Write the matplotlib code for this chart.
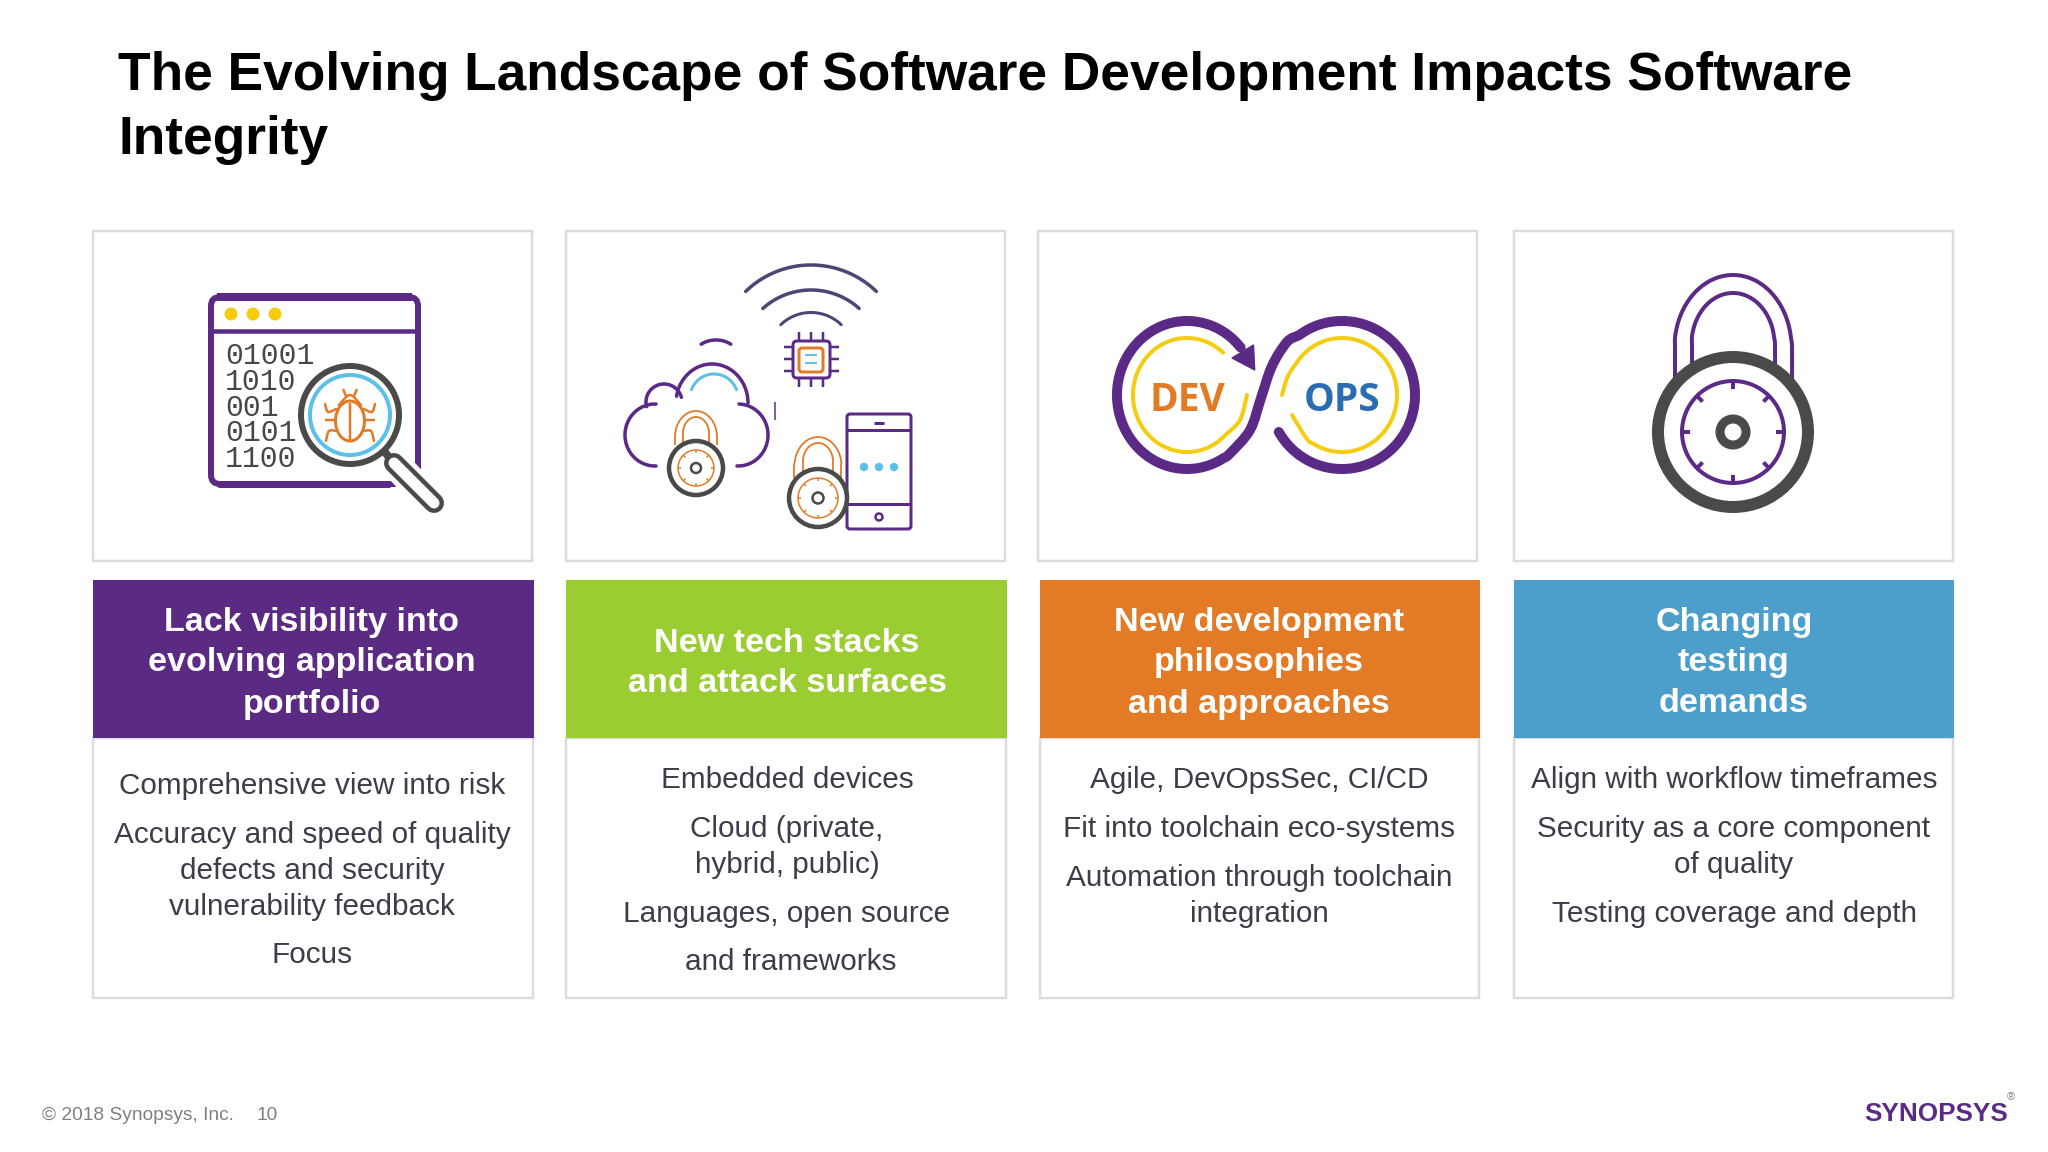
import numpy as np
import matplotlib
matplotlib.use("Agg")
import matplotlib.pyplot as plt
from matplotlib.path import Path
from matplotlib.patches import PathPatch, Rectangle, Circle, Ellipse, FancyBboxPatch, Polygon

PURPLE = "#5b2a86"
DARK = "#4a4a4a"
ORANGE = "#e27a26"
YELLOW = "#f6cc0f"
SKY = "#5cc0e8"
EDGE = "#dcdcdf"
BODY = "#3d3d4a"

title_lines = ["The Evolving Landscape of Software Development Impacts Software", "Integrity"]
title_y = [76, 140]

col_left = [93, 566, 1040, 1514]
col_right = [534, 1007, 1480, 1954]
img_left = [93, 566, 1038, 1514]
img_right = [532, 1005, 1477, 1953]
col_center = [312, 787, 1259, 1734]
header_colors = ["#5b2a82", "#9acd32", "#e37a26", "#4b9fca"]

headers = [
    ["Lack visibility into", "evolving application", "portfolio"],
    ["New tech stacks", "and attack surfaces"],
    ["New development", "philosophies", "and approaches"],
    ["Changing", "testing", "demands"],
]
header_y = [
    [622, 663, 704],
    [643, 684],
    [622, 663, 704],
    [622, 663, 704],
]
body = [
    ["Comprehensive view into risk", "Accuracy and speed of quality", "defects and security",
     "vulnerability feedback", "Focus"],
    ["Embedded devices", "Cloud (private,", "hybrid, public)", "Languages, open source", "and frameworks"],
    ["Agile, DevOpsSec, CI/CD", "Fit into toolchain eco-systems", "Automation through toolchain", "integration"],
    ["Align with workflow timeframes", "Security as a core component", "of quality", "Testing coverage and depth"],
]
body_y = [
    [786, 835, 871, 907, 955],
    [780, 829, 865, 914, 962],
    [780, 829, 878, 914],
    [780, 829, 865, 914],
]
binary_rows = ["01001", "1010", "001", "0101", "1100"]
binary_y = [356, 382, 408, 433, 459]

PX = 0.72  # pixels to points at dpi 100

plt.rcParams["font.family"] = ["Liberation Sans", "DejaVu Sans"]
fig = plt.figure(figsize=(20.48, 11.52), dpi=100)
ax = fig.add_axes([0, 0, 1, 1])
ax.set_xlim(0, 2048)
ax.set_ylim(1152, 0)
ax.axis("off")


def arc_pts(cx, cy, rx, ry, start, stop, n=24):
    # angles in degrees, y axis points down
    a = np.radians(np.linspace(start, stop, n))
    return list(zip(cx + rx * np.cos(a), cy + ry * np.sin(a)))


def smooth(points):
    # catmull-rom through the points, as a cubic bezier path
    pts = np.array(points, dtype=float)
    padded = np.vstack([pts[0], pts, pts[-1]])
    verts = [pts[0]]
    codes = [Path.MOVETO]
    for i in range(1, len(padded) - 2):
        p0, p1, p2, p3 = padded[i - 1], padded[i], padded[i + 1], padded[i + 2]
        verts += [p1 + (p2 - p0) / 6, p2 - (p3 - p1) / 6, p2]
        codes += [Path.CURVE4] * 3
    return Path(verts, codes)


def curve(points, color, width, z=3, cap="round"):
    ax.add_patch(PathPatch(smooth(points), fc="none", ec=color, lw=width * PX, capstyle=cap, zorder=z))


def line(x0, y0, x1, y1, color, width, z=3, cap="butt"):
    ax.plot([x0, x1], [y0, y1], color=color, lw=width * PX, solid_capstyle=cap, zorder=z)


def ring(x, y, r, color, width, z=3, fill="none"):
    ax.add_patch(Circle((x, y), r, fc=fill, ec=color, lw=width * PX, zorder=z))


def round_box(x0, y0, x1, y1, rad, color, width, z=3, fill="none"):
    ax.add_patch(FancyBboxPatch((x0 + rad, y0 + rad), x1 - x0 - 2 * rad, y1 - y0 - 2 * rad,
                                boxstyle="round,pad=%f,rounding_size=%f" % (rad, rad),
                                fc=fill, ec=color, lw=width * PX, zorder=z))


def dial(x, y, r_out, r_in, hub, out_w, in_w, hub_w, tick, in_color, z):
    ring(x, y, r_out, DARK, out_w, z, "white")
    ring(x, y, r_in, in_color, in_w, z + 0.1)
    ring(x, y, hub, DARK, hub_w, z + 0.1)
    for a in np.arange(8) * np.pi / 4:
        line(x + r_in * np.cos(a), y + r_in * np.sin(a),
             x + (r_in - tick) * np.cos(a), y + (r_in - tick) * np.sin(a), in_color, in_w, z + 0.1)


def shackle(x, left, right, top, bottom, color, width, z=2):
    mid = top + (right - left) * 0.62
    half = (right - left) / 2
    pts = [(left, bottom), (left, mid)] + arc_pts(x, mid, half, mid - top, 180, 360)[1:-1] + [(right, mid), (right, bottom)]
    curve(pts, color, width, z, "butt")


def draw_window_icon():
    round_box(211, 297, 418, 484, 9, PURPLE, 6)
    line(217, 297, 412, 297, PURPLE, 8)
    line(211, 331, 418, 331, PURPLE, 4.5)
    line(218, 484, 390, 484, PURPLE, 7)
    for x in [231, 253, 275]:
        ax.add_patch(Circle((x, 314), 6.5, fc=YELLOW, ec="none", zorder=4))
    for row, y in zip(binary_rows, binary_y):
        ax.text(225, y, row, family="Liberation Mono", fontsize=21.5, color="#474747", va="center", ha="left", zorder=4)
    # magnifier
    line(385, 452, 433, 505, "white", 30, 5, "round")
    line(384, 451, 392, 461, DARK, 8, 6)
    line(394, 463, 434, 503, DARK, 20, 6, "round")
    line(394, 463, 434, 503, "white", 11, 7, "round")
    ring(350, 415, 49, DARK, 6, 6, "white")
    ring(350, 415, 40, SKY, 4, 7)
    # bug
    ax.add_patch(Ellipse((350, 421), 29, 40, fc="none", ec=ORANGE, lw=3 * PX, zorder=8))
    line(350, 403, 350, 441, ORANGE, 2.5, 8)
    curve([(339, 405), (350, 395), (361, 405)], ORANGE, 2.5, 8)
    for side in [-1, 1]:
        line(350 + side * 4, 396, 350 + side * 7, 389, ORANGE, 2.5, 8)
        curve([(350 + side * 14, 409), (350 + side * 22, 412), (350 + side * 25, 404)], ORANGE, 2.5, 8)
        line(350 + side * 15, 420, 350 + side * 25, 420, ORANGE, 2.5, 8)
        curve([(350 + side * 13, 431), (350 + side * 21, 431), (350 + side * 24, 441)], ORANGE, 2.5, 8)


def draw_cloud_icon():
    wave = "#4c4672"
    curve(arc_pts(811, 359, 94, 94, -134, -46), wave, 3.5)
    curve(arc_pts(811, 362, 72, 72, -132, -48), wave, 3.5)
    curve(arc_pts(811, 356, 43.5, 43.5, -134, -46), wave, 3)
    # chip
    round_box(793, 341, 830, 378, 4, PURPLE, 3)
    round_box(799, 348, 823, 372, 3, ORANGE, 3)
    for d in [-12, 0, 12]:
        line(811 + d, 332, 811 + d, 341, PURPLE, 2.5)
        line(811 + d, 378, 811 + d, 387, PURPLE, 2.5)
        line(784, 359 + d, 793, 359 + d, PURPLE, 2.5)
        line(830, 359 + d, 839, 359 + d, PURPLE, 2.5)
    line(805, 355, 817, 355, SKY, 2)
    line(805, 363, 817, 363, SKY, 2)
    # cloud
    curve(arc_pts(655, 435, 30, 31, 88, 272), PURPLE, 3.5)
    curve(arc_pts(664, 402, 18, 18, 165, 345), PURPLE, 3.5)
    curve(arc_pts(712, 403, 36, 39, 190, 360), PURPLE, 3.5)
    curve(arc_pts(738, 435, 30, 31, -88, 92), PURPLE, 3.5)
    curve(arc_pts(716, 358, 23, 18, -130, -50), PURPLE, 3.5)
    curve(arc_pts(714, 398, 24, 24, -160, -20), SKY, 3)
    line(775, 402, 775, 420, PURPLE, 1.5)
    # locks
    shackle(696, 675, 717, 411, 445, ORANGE, 1.8)
    shackle(696, 683, 709, 417, 445, ORANGE, 1.8)
    dial(696, 468, 27, 18, 5, 4.5, 1.5, 2.5, 3, ORANGE, 4)
    # phone
    round_box(847, 414, 911, 529, 3, PURPLE, 3)
    line(847, 430, 911, 430, PURPLE, 3)
    line(847, 504, 911, 504, PURPLE, 3)
    line(874, 423, 884, 423, PURPLE, 3)
    ring(879, 517, 3.5, PURPLE, 2.5)
    for x in [864, 879, 894]:
        ax.add_patch(Circle((x, 467), 4.2, fc=SKY, ec="none", zorder=4))
    shackle(818, 794, 841, 437, 478, ORANGE, 1.8, 5)
    shackle(818, 803, 833, 443, 478, ORANGE, 1.8, 5)
    dial(818, 498, 29, 20, 5.5, 4.5, 1.5, 2.5, 3, ORANGE, 6)


def draw_devops_icon():
    cross = [(1250, 430), (1261, 398), (1272, 366), (1287, 342)]
    loop = arc_pts(1187, 395, 70, 74, -40, -308, 40) + cross + arc_pts(1342, 395, 73, 74, 234, 510, 40)
    curve(loop, PURPLE, 10)
    ax.add_patch(Polygon([(1253.5, 345), (1254.7, 370), (1232, 358)], fc=PURPLE, ec=PURPLE, lw=1, zorder=3))
    curve(arc_pts(1187, 395, 54, 57, -48, -315, 30) + [(1240, 420), (1247, 395)], YELLOW, 4)
    curve([(1282, 395), (1288, 376)] + arc_pts(1342, 395, 55, 57, 220, 490, 30) + [(1292, 415)], YELLOW, 4)
    ax.text(1187, 396, "DEV", family="Open Sans", weight="bold", fontsize=28, color=ORANGE,
            ha="center", va="center_baseline", zorder=4)
    ax.text(1342, 396, "OPS", family="Open Sans", weight="bold", fontsize=28, color="#2b6db2",
            ha="center", va="center_baseline", zorder=4)


def draw_lock_icon():
    shackle(1733, 1675, 1792, 275, 385, PURPLE, 4)
    shackle(1733, 1692, 1775, 293, 370, PURPLE, 4)
    dial(1733, 432, 75, 51, 13, 12, 4, 9, 8, PURPLE, 3)


# title
for text, y in zip(title_lines, title_y):
    ax.text(118, y, text, fontsize=38.3, weight="bold", color="black", va="center", ha="left")

# boxes, banners and their text
for i in range(4):
    ax.add_patch(Rectangle((img_left[i], 231), img_right[i] - img_left[i], 330, fc="white", ec=EDGE, lw=2.5 * PX, zorder=1))
    ax.add_patch(Rectangle((col_left[i], 738), col_right[i] - col_left[i] - 1, 260, fc="white", ec=EDGE, lw=2.5 * PX, zorder=1))
    ax.add_patch(Rectangle((col_left[i], 580), col_right[i] - col_left[i], 158, fc=header_colors[i], ec="none", zorder=2))
    for text, y in zip(headers[i], header_y[i]):
        ax.text(col_center[i], y, text, fontsize=24.6, weight="bold", color="white", ha="center", va="center", zorder=3)
    for text, y in zip(body[i], body_y[i]):
        x = col_center[i]
        if text == "and frameworks":
            x += 4
        ax.text(x, y, text, fontsize=21.4, color=BODY, ha="center", va="center", zorder=3)

draw_window_icon()
draw_cloud_icon()
draw_devops_icon()
draw_lock_icon()

# footer
ax.text(42, 1116, "\u00a9 2018 Synopsys, Inc.", fontsize=13.8, color="#808080", va="center", ha="left")
ax.text(256, 1116, "10", fontsize=13.8, color="#808080", va="center", ha="left")
ax.text(1864, 1114, "SYNOPSYS", weight="bold", fontsize=18.8, color=PURPLE, va="center", ha="left")
ax.text(2007, 1097, "\u00ae", fontsize=8, color="#808080", va="center", ha="left")

fig.savefig("out.png", dpi=100)
